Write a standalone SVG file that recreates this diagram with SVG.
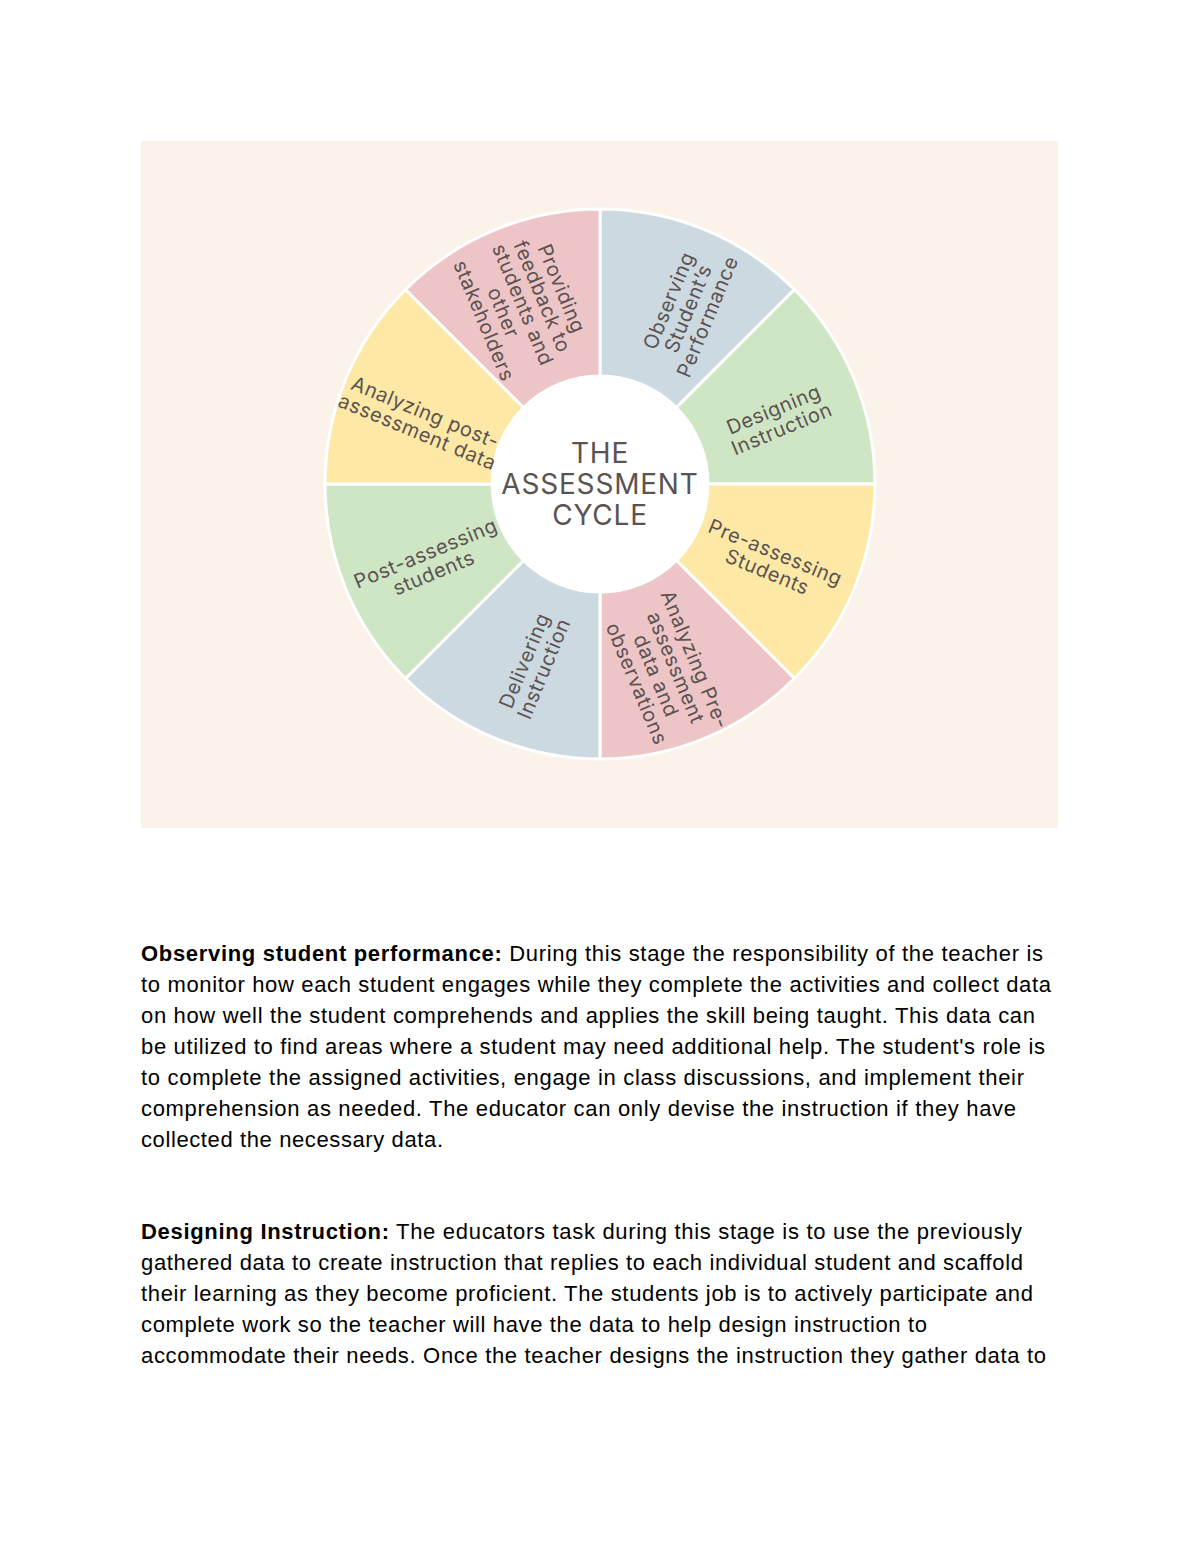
<svg xmlns="http://www.w3.org/2000/svg" width="1200" height="1553" viewBox="0 0 1200 1553">
<style>
.seg{stroke:#ffffff;stroke-width:3;stroke-linejoin:miter}
.blue{fill:#CCD9E1}.green{fill:#CFE6C4}.yellow{fill:#FDE8A6}.pink{fill:#EEC5C6}
.lbl{font-family:Inter,"Noto Sans","Liberation Sans",sans-serif;font-size:20px;fill:#5b5252;text-anchor:middle;letter-spacing:0.6px}
.title{font-family:Inter,"Noto Sans","Liberation Sans",sans-serif;font-size:28px;fill:#5b5252;text-anchor:middle;letter-spacing:0.8px}
.body{font-family:"Liberation Sans",Arial,sans-serif;font-size:22px;fill:#000000}
.b{font-weight:bold}
</style>
<rect x="0" y="0" width="1200" height="1553" fill="#ffffff"/>
<rect x="141" y="141" width="917" height="687" fill="#FBF2EA"/>
<g id="wheel">
<g id="seg-observing">
<path class="seg blue" d="M600,376 L600,209 A275,275 0 0 1 794.45,289.55 L676.37,407.63 A108,108 0 0 0 600,376 Z"/>
<g transform="translate(689,309) rotate(-67.5)"><text class="lbl" y="-15">Observing</text><text class="lbl" y="6">Student’s</text><text class="lbl" y="27">Performance</text></g>
</g>
<g id="seg-designing">
<path class="seg green" d="M676.37,407.63 L794.45,289.55 A275,275 0 0 1 875,484 L708,484 A108,108 0 0 0 676.37,407.63 Z"/>
<g transform="translate(778,420) rotate(-22.5)"><text class="lbl" y="-4.5">Designing</text><text class="lbl" y="16.5">Instruction</text></g>
</g>
<g id="seg-preassessing">
<path class="seg yellow" d="M708,484 L875,484 A275,275 0 0 1 794.45,678.45 L676.37,560.37 A108,108 0 0 0 708,484 Z"/>
<g transform="translate(771,563) rotate(22.5)"><text class="lbl" y="-4.5">Pre-assessing</text><text class="lbl" y="16.5">Students</text></g>
</g>
<g id="seg-analyzing-pre">
<path class="seg pink" d="M676.37,560.37 L794.45,678.45 A275,275 0 0 1 600,759 L600,592 A108,108 0 0 0 676.37,560.37 Z"/>
<g transform="translate(665,672) rotate(67.5)"><text class="lbl" y="-25.5">Analyzing Pre-</text><text class="lbl" y="-4.5">assessment</text><text class="lbl" y="16.5">data and</text><text class="lbl" y="37.5">observations</text></g>
</g>
<g id="seg-delivering">
<path class="seg blue" d="M600,592 L600,759 A275,275 0 0 1 405.55,678.45 L523.63,560.37 A108,108 0 0 0 600,592 Z"/>
<g transform="translate(535,665) rotate(-67.5)"><text class="lbl" y="-4.5">Delivering</text><text class="lbl" y="16.5">Instruction</text></g>
</g>
<g id="seg-postassessing">
<path class="seg green" d="M523.63,560.37 L405.55,678.45 A275,275 0 0 1 325,484 L492,484 A108,108 0 0 0 523.63,560.37 Z"/>
<g transform="translate(430,564) rotate(-22.5)"><text class="lbl" y="-4.5">Post-assessing</text><text class="lbl" y="16.5">students</text></g>
</g>
<g id="seg-analyzing-post">
<path class="seg yellow" d="M492,484 L325,484 A275,275 0 0 1 405.55,289.55 L523.63,407.63 A108,108 0 0 0 492,484 Z"/>
<g transform="translate(421,423) rotate(22.5)"><text class="lbl" y="-4.5">Analyzing post-</text><text class="lbl" y="16.5">assessment data</text></g>
</g>
<g id="seg-providing">
<path class="seg pink" d="M523.63,407.63 L405.55,289.55 A275,275 0 0 1 600,209 L600,376 A108,108 0 0 0 523.63,407.63 Z"/>
<g transform="translate(522,305) rotate(67.5)"><text class="lbl" y="-36">Providing</text><text class="lbl" y="-15">feedback to</text><text class="lbl" y="6">students and</text><text class="lbl" y="27">other</text><text class="lbl" y="48">stakeholders</text></g>
</g>
<g id="center">
<circle cx="600" cy="484" r="107" fill="#ffffff"/>
<text class="title" x="600" y="463">THE</text>
<text class="title" x="600" y="494">ASSESSMENT</text>
<text class="title" x="600" y="525">CYCLE</text>
</g>
</g>
<g id="connectors"></g>
<g id="para1">
<text class="body" x="141" y="961" textLength="902" lengthAdjust="spacing"><tspan class="b">Observing student performance:</tspan> During this stage the responsibility of the teacher is</text>
<text class="body" x="141" y="992" textLength="910" lengthAdjust="spacing">to monitor how each student engages while they complete the activities and collect data</text>
<text class="body" x="141" y="1023" textLength="894" lengthAdjust="spacing">on how well the student comprehends and applies the skill being taught. This data can</text>
<text class="body" x="141" y="1054" textLength="904" lengthAdjust="spacing">be utilized to find areas where a student may need additional help. The student's role is</text>
<text class="body" x="141" y="1085" textLength="883" lengthAdjust="spacing">to complete the assigned activities, engage in class discussions, and implement their</text>
<text class="body" x="141" y="1116" textLength="875" lengthAdjust="spacing">comprehension as needed. The educator can only devise the instruction if they have</text>
<text class="body" x="141" y="1147" textLength="302" lengthAdjust="spacing">collected the necessary data.</text>
</g>
<g id="para2">
<text class="body" x="141" y="1239" textLength="881" lengthAdjust="spacing"><tspan class="b">Designing Instruction:</tspan> The educators task during this stage is to use the previously</text>
<text class="body" x="141" y="1270" textLength="882" lengthAdjust="spacing">gathered data to create instruction that replies to each individual student and scaffold</text>
<text class="body" x="141" y="1301" textLength="892" lengthAdjust="spacing">their learning as they become proficient. The students job is to actively participate and</text>
<text class="body" x="141" y="1332" textLength="786" lengthAdjust="spacing">complete work so the teacher will have the data to help design instruction to</text>
<text class="body" x="141" y="1363" textLength="905" lengthAdjust="spacing">accommodate their needs. Once the teacher designs the instruction they gather data to</text>
</g>
</svg>
